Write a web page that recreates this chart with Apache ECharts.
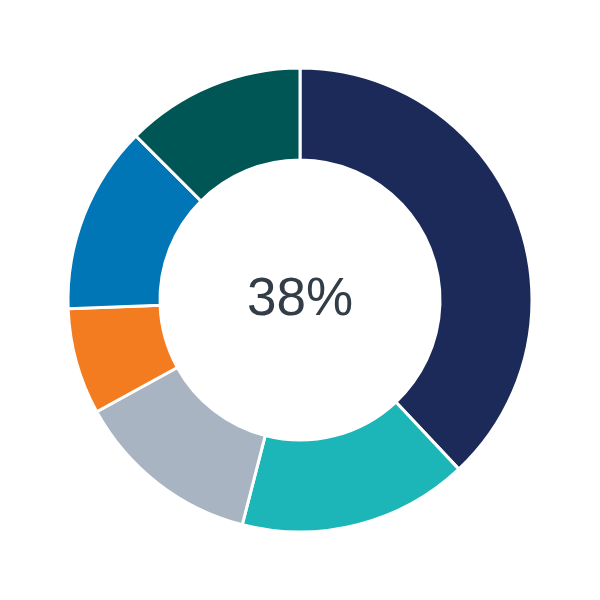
<!DOCTYPE html>
<html>
<head>
<meta charset="utf-8">
<script src="https://cdn.jsdelivr.net/npm/echarts@6/dist/echarts.min.js"></script>
<style>
    html, body { margin: 0; padding: 0; background: #fff; }
    #chart { width: 600px; height: 600px; }
</style>
</head>
<body>
<div id="chart"></div>
<script>
// 各分段数据（顺时针，从12点方向开始）
var sliceNames = ["A", "B", "C", "D", "E", "F"];
var sliceValues = [38, 16, 13, 7.4, 13.1, 12.5];
var sliceColors = ["#1c2a5a", "#1cb5b8", "#a9b4c2", "#f47c20", "#0076b6", "#005654"];
var centerLabel = "38%";

var pieData = [];
for (var i = 0; i < sliceNames.length; i++) {
    pieData.push({
        name: sliceNames[i],
        value: sliceValues[i],
        itemStyle: { color: sliceColors[i] }
    });
}

var myChart = echarts.init(document.getElementById("chart"));
myChart.setOption({
    animation: false,
    title: {
        text: centerLabel,
        left: "center",
        top: "center",
        textStyle: {
            fontFamily: "Liberation Sans, Arial, sans-serif",
            fontSize: 53,
            fontWeight: "normal",
            color: "#333d47"
        }
    },
    series: [{
        type: "pie",
        center: [300, 300],
        radius: [140, 232],
        startAngle: 90,
        clockwise: true,
        label: { show: false },
        labelLine: { show: false },
        emphasis: { disabled: true },
        itemStyle: {
            borderColor: "#fff",
            borderWidth: 3
        },
        data: pieData
    }]
});
</script>
</body>
</html>
